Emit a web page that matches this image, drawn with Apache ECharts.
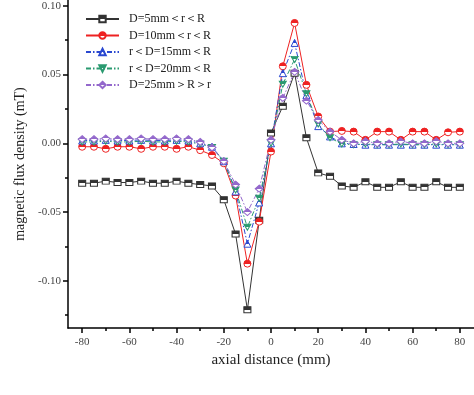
<!DOCTYPE html>
<html><head><meta charset="utf-8">
<script src="https://cdn.jsdelivr.net/npm/echarts@6/dist/echarts.min.js"></script>
<style>html,body{margin:0;padding:0;background:#fff}#c{width:474px;height:395px}</style>
</head><body><div id="c"></div>
<script>
const xValues = [-80,-75,-70,-65,-60,-55,-50,-45,-40,-35,-30,-25,-20,-15,-10,-5,0,5,10,15,20,25,30,35,40,45,50,55,60,65,70,75,80];
const seriesNames = ['D=5mm＜r＜R','D=10mm＜r＜R','r＜D=15mm＜R','r＜D=20mm＜R','D=25mm＞R＞r'];
const d5  = [-0.029,-0.029,-0.0275,-0.0285,-0.0285,-0.0275,-0.029,-0.029,-0.0275,-0.029,-0.030,-0.031,-0.041,-0.066,-0.121,-0.056,0.0075,0.027,0.051,0.004,-0.0215,-0.024,-0.031,-0.032,-0.028,-0.032,-0.032,-0.028,-0.032,-0.032,-0.028,-0.032,-0.032];
const d10 = [-0.0025,-0.0025,-0.004,-0.0025,-0.0025,-0.004,-0.0025,-0.0025,-0.004,-0.0025,-0.005,-0.0085,-0.0145,-0.038,-0.0875,-0.057,-0.006,0.056,0.0875,0.0425,0.0195,0.0085,0.009,0.0085,0.0025,0.0085,0.0085,0.0025,0.0085,0.0085,0.0025,0.008,0.0085];
const d15 = [0.002,0.002,0.0025,0.002,0.002,0.0025,0.002,0.002,0.0025,0.002,0.0,-0.0025,-0.013,-0.035,-0.073,-0.043,0.0,0.051,0.073,0.035,0.0125,0.005,0.0,-0.0005,-0.001,-0.001,-0.001,-0.001,-0.001,-0.001,-0.001,-0.001,-0.001];
const d20 = [0.001,0.001,0.0015,0.001,0.001,0.0015,0.001,0.001,0.0015,0.001,-0.0005,-0.003,-0.013,-0.034,-0.061,-0.040,0.0,0.043,0.061,0.036,0.014,0.004,-0.0005,-0.001,-0.0005,-0.001,-0.001,-0.0005,-0.001,-0.001,-0.0005,-0.001,-0.001];
const d25 = [0.003,0.003,0.0035,0.003,0.003,0.0035,0.003,0.003,0.0035,0.003,0.001,-0.003,-0.013,-0.030,-0.050,-0.033,0.0025,0.033,0.052,0.031,0.017,0.0085,0.0025,0.0,0.0015,0.0,0.0,0.0015,0.0,0.0,0.0015,0.0,0.0];
const xTicks = [-80,-60,-40,-20,0,20,40,60,80];
const xMinorTicks = [-70,-50,-30,-10,10,30,50,70];
const yTicks = [-0.10,-0.05,0,0.05,0.10];
const yMinorTicks = [-0.125,-0.075,-0.025,0.025,0.075];

const colors = ['#333333','#ee2222','#2a48d0','#2a9a70','#9468cc'];
const symbols = ['rect','circle','triangle','path://M0,0 L10,0 L5,9 Z','diamond'];
const sizes = [[7,6],7,7,[7,6],[8,7]];
const lineTypes = ['solid','solid',[5,2,1.5,2],[5,2,1.5,2],[5,2,1.5,2]];
const allData = [d5,d10,d15,d20,d25];

function halfFill(c){
  return {type:'linear',x:0,y:0,x2:0,y2:1,colorStops:[
    {offset:0,color:c},{offset:0.5,color:c},{offset:0.5,color:'#fff'},{offset:1,color:'#fff'}]};
}
const serif = 'Liberation Serif, DejaVu Serif, serif';
const series = allData.map((arr,i)=>({
  name: seriesNames[i], type:'line',
  data: xValues.map((x,j)=>[x,arr[j]]),
  symbol: symbols[i], symbolSize: sizes[i], showAllSymbol:true,
  lineStyle:{color:colors[i],width:1,type:lineTypes[i]},
  itemStyle:{color:halfFill(colors[i]),borderColor:colors[i],borderWidth:1},
  emphasis:{disabled:true}, animation:false
}));

const axisLineStyle = {color:'#000',width:1.5};
const chart = echarts.init(document.getElementById('c'));
chart.setOption({
  animation:false,
  grid:{left:68,right:0,top:0,bottom:67},
  legend:{orient:'vertical',left:80,top:8,itemWidth:33,itemHeight:8,itemGap:4.5,
    data:seriesNames, textStyle:{fontFamily:serif,fontSize:12,color:'#222',padding:[0,0,0,5]}},
  xAxis:[{type:'value',min:-86,max:86,position:'bottom',
    axisLine:{onZero:false,lineStyle:axisLineStyle},
    axisTick:{customValues:xTicks,length:5,lineStyle:axisLineStyle},
    axisLabel:{customValues:xTicks,margin:9,fontFamily:serif,fontSize:11,color:'#444'},
    splitLine:{show:false},
    name:'axial distance (mm)',nameLocation:'middle',nameGap:25,
    nameTextStyle:{fontFamily:serif,fontSize:15,color:'#222'}},
   {type:'value',min:-86,max:86,position:'bottom',offset:0,
    axisLine:{show:false,onZero:false},
    axisTick:{customValues:xMinorTicks,length:3,lineStyle:axisLineStyle},
    axisLabel:{show:false},splitLine:{show:false}}],
  yAxis:[{type:'value',min:-0.1343,max:0.1042,position:'left',
    axisLine:{onZero:false,lineStyle:axisLineStyle},
    axisTick:{customValues:yTicks,length:5,lineStyle:axisLineStyle},
    axisLabel:{customValues:yTicks,margin:7,fontFamily:serif,fontSize:11,color:'#444',formatter:v=>v.toFixed(2)},
    splitLine:{show:false},
    name:'magnetic flux density (mT)',nameLocation:'middle',nameGap:39,
    nameTextStyle:{fontFamily:serif,fontSize:14,color:'#222'}},
   {type:'value',min:-0.1343,max:0.1042,position:'left',offset:0,
    axisLine:{show:false,onZero:false},
    axisTick:{customValues:yMinorTicks,length:3,lineStyle:axisLineStyle},
    axisLabel:{show:false},splitLine:{show:false}}],
  series: series
});
</script></body></html>
